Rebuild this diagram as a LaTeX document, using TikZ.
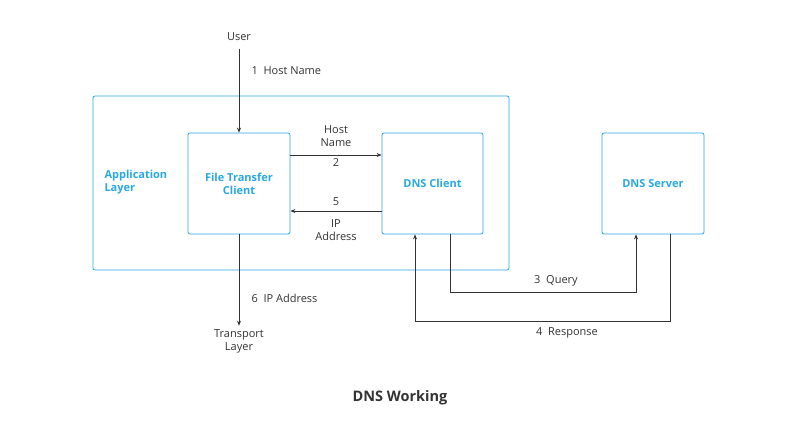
\documentclass[tikz,border=0pt]{standalone}
\usepackage{fontspec}
\setmainfont{Open Sans}
\usetikzlibrary{arrows.meta}
\definecolor{dblue}{HTML}{29A8E0}
\definecolor{txt}{HTML}{333333}
\begin{document}
\begin{tikzpicture}[x=1pt,y=-1pt,
  box/.style={draw=dblue,line width=0.8pt,rounded corners=2pt,fill=white},
  blab/.style={text=dblue,font=\fontsize{11}{13}\selectfont\bfseries,align=center},
  lab/.style={text=txt,font=\fontsize{11}{13}\selectfont,align=center},
  arr/.style={draw=txt,line width=0.7pt,-{Stealth[length=5pt,width=4pt]}}]
\useasboundingbox (0,0) rectangle (800,434);
\draw[box] (93,96) rectangle (509,270);
\node[box,minimum width=102pt,minimum height=101pt,blab] (ftc) at (239,183.5) {File Transfer\\Client};
\node[box,minimum width=101pt,minimum height=101pt,blab] (dc) at (432.5,183.5) {DNS Client};
\node[box,minimum width=102pt,minimum height=101pt,blab] (ds) at (653,183.5) {DNS Server};
\node[blab,align=left,anchor=west] (al) at (101,182) {Application\\Layer};
\node[lab] (user) at (239,37) {User};
\node[lab] (tl) at (239,341) {Transport\\Layer};
\node[font=\fontsize{14.5}{17}\selectfont\bfseries,text=txt] (title) at (400,398) {DNS Working};
\draw[arr] (user.south) ++(0,4) coordinate (u1) -- (ftc.north);
\node[lab,anchor=west] at (248,71) {1\ \ Host Name};
\draw[arr] (ftc.east |- 0,155) -- (dc.west |- 0,155);
\node[lab] at (336,136) {Host\\Name};
\node[lab] at (336,163) {2};
\draw[arr] (dc.west |- 0,211) -- (ftc.east |- 0,211);
\node[lab] at (336,202) {5};
\node[lab] at (336,230) {IP\\Address};
\draw[arr] (ftc.south) -- (tl.north);
\node[lab,anchor=west] at (248,298) {6\ \ IP Address};
\draw[arr] (dc.south -| 450,0) |- (636,292) -- (ds.south -| 636,0);
\node[lab] at (556,281) {3\ \ Query};
\draw[arr] (ds.south -| 670,0) |- (415,321) -- (dc.south -| 415,0);
\node[lab] at (567,333) {4\ \ Response};
\end{tikzpicture}
\end{document}
